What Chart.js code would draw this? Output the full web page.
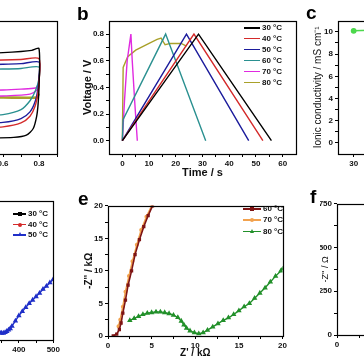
<!DOCTYPE html>
<html>
<head>
<meta charset="utf-8">
<script src="https://cdn.jsdelivr.net/npm/chart.js@4.4.0/dist/chart.umd.min.js"></script>
<style>
  body { margin: 0; width: 364px; height: 364px; overflow: hidden; background: #fff; position: relative;
         font-family: "Liberation Sans", Arial, sans-serif; }
  canvas { position: absolute; }
  .letter { position: absolute; font-size: 19px; font-weight: bold; line-height: 19px; color: #000; }
  .leg { position: absolute; font-size: 8px; font-weight: bold; line-height: 10px; white-space: nowrap; color: #111; }
  .leg .ln { position: absolute; top: 4px; height: 1.5px; }
  .leg .mk { position: absolute; }
</style>
</head>
<body>
<canvas id="cvA"></canvas>
<canvas id="gcdB"></canvas>
<canvas id="condC"></canvas>
<canvas id="nyqD"></canvas>
<canvas id="nyqE"></canvas>
<canvas id="nyqF"></canvas>

<div class="letter" style="left:77px;top:4px">b</div>
<div class="letter" style="left:306px;top:3px">c</div>
<div class="letter" style="left:78px;top:189px">e</div>
<div class="letter" style="left:310px;top:187px">f</div>

<script>
// ---- (a) CV loops, [voltage, current] (current in arbitrary units, axis is cut off)
const cvTicks = [0.0, 0.2, 0.4, 0.6, 0.8];
const cv30 = [[0.5,0.31],[0.6,0.315],[0.7,0.325],[0.76,0.335],[0.8,0.35],[0.8,0.0],[0.795,-0.15],[0.787,-0.26],[0.768,-0.37],[0.73,-0.43],[0.66,-0.45],[0.5,-0.455]];
const cv40 = [[0.5,0.245],[0.6,0.248],[0.7,0.252],[0.8,0.26],[0.8,0.05],[0.794,-0.05],[0.778,-0.17],[0.75,-0.26],[0.7,-0.32],[0.6,-0.355],[0.5,-0.36]];
const cv50 = [[0.5,0.205],[0.6,0.21],[0.7,0.215],[0.8,0.23],[0.8,0.1],[0.795,0.0],[0.78,-0.12],[0.75,-0.22],[0.7,-0.28],[0.6,-0.315],[0.5,-0.32]];
const cv60 = [[0.5,0.165],[0.6,0.167],[0.7,0.172],[0.8,0.185],[0.8,0.08],[0.78,-0.03],[0.75,-0.12],[0.7,-0.2],[0.6,-0.245],[0.5,-0.25]];
const cv70 = [[0.5,-0.025],[0.6,-0.023],[0.7,-0.015],[0.78,-0.005],[0.8,0.02],[0.79,-0.02],[0.75,-0.06],[0.6,-0.077],[0.5,-0.078]];
const cv80 = [[0.5,-0.085],[0.6,-0.085],[0.79,-0.085],[0.8,-0.06],[0.79,-0.095],[0.6,-0.095],[0.5,-0.095]];

// ---- (b) galvanostatic charge/discharge, [time s, voltage V]
const timeTicks = [0, 10, 20, 30, 40, 50, 60];
const voltTicks = [0.0, 0.2, 0.4, 0.6, 0.8];
const tempLabels = ['30 °C', '40 °C', '50 °C', '60 °C', '70 °C', '80 °C'];
const gcd30 = [[0,0],[28.5,0.8],[55.8,0]];
const gcd40 = [[0,0],[26.8,0.8],[52.6,0]];
const gcd50 = [[0,0],[24.0,0.8],[47.3,0]];
const gcd60 = [[0,0],[0.3,0.16],[16.2,0.8],[31.2,0]];
const gcd70 = [[0,0],[0.8,0.3],[1.8,0.6],[3.2,0.8],[3.7,0.6],[4.6,0.3],[5.6,0]];
const gcd80 = [[0,0],[0.3,0.55],[2,0.63],[5,0.68],[10,0.73],[13,0.76],[14.5,0.77],[16,0.72],[18,0.73],[22,0.73],[24,0.71]];

// ---- (c) ionic conductivity vs temperature
const condTempTicks = [30, 40, 50, 60, 70, 80];
const condTicks = [0, 2, 4, 6, 8, 10];
const condTemp = [30, 40];
const condValue = [10.1, 10.2];

// ---- (d) Nyquist, Ω
const dZTicks = [0, 100, 200, 300, 400, 500];
const dZ50 = [[335,26],[340,24],[345,21],[350,20],[355,20],[360,22],[365,25],[370,29],[375,33],[380,40],[390,55],[400,70],[410,82],[420,94],[430,105],[440,115],[450,125],[460,135],[470,146],[480,155],[490,165],[500,175]];
const dLabels = ['30 °C', '40 °C', '50 °C'];

// ---- (e) Nyquist, kΩ
const eTicks = [0, 5, 10, 15, 20];
const eLabels = ['60 °C', '70 °C', '80 °C'];
const eZ60 = [[0.6,0],[1.0,0.3],[1.3,1.0],[1.5,2.0],[1.7,3.5],[2.0,5.5],[2.3,7.8],[2.7,10],[3.1,12.5],[3.6,14.8],[4.1,16.8],[4.6,18.5],[5.1,20]];
const eZ70 = [[1.2,1.5],[1.4,2.5],[1.7,4.5],[2.0,6.8],[2.4,9.2],[2.8,11.5],[3.3,14],[3.8,16.3],[4.4,18.3],[5.0,20]];
const eZ80 = [[2.5,2.4],[3.0,2.7],[3.5,3.0],[4.0,3.3],[4.5,3.5],[5.0,3.6],[5.5,3.7],[6.0,3.7],[6.5,3.6],[7.0,3.45],[7.5,3.2],[8.0,2.85],[8.4,2.3],[8.7,1.7],[9.0,1.2],[9.4,0.8],[9.9,0.5],[10.4,0.35],[10.9,0.5],[11.4,0.9],[12.0,1.4],[12.6,1.9],[13.2,2.4],[13.8,2.8],[14.4,3.3],[15.0,3.9],[15.6,4.5],[16.2,5.0],[16.8,5.8],[17.4,6.6],[18.0,7.4],[18.6,8.3],[19.2,9.2],[19.8,10.0],[20.0,10.3]];

// ---- (f) Nyquist, Ω (only the axis is in view)
const fTicks = [0, 250, 500, 750];

Chart.defaults.font.family = '"Liberation Sans", Arial, sans-serif';
Chart.defaults.animation = false;

const frame = {
  id: 'frame',
  afterDraw(chart) {
    const a = chart.chartArea, c = chart.ctx;
    c.save();
    c.strokeStyle = '#000';
    c.lineWidth = 1.2;
    c.strokeRect(Math.round(a.left) + 0.5, Math.round(a.top) + 0.5, Math.round(a.right - a.left), Math.round(a.bottom - a.top));
    c.restore();
  }
};

const pts = arr => arr.map(p => ({x: p[0], y: p[1]}));
const mids = t => t.slice(1).map((v, i) => (v + t[i]) / 2);

function axis(o) {
  const all = o.major.concat(o.minor || mids(o.major)).sort((a, b) => a - b);
  return {
    type: 'linear', min: o.min, max: o.max,
    afterBuildTicks: s => { s.ticks = all.map(v => ({value: v})); },
    ticks: {
      autoSkip: false, maxRotation: 0, padding: 2, color: '#111',
      font: {size: 8, weight: 'bold'},
      callback: v => o.major.includes(v) ? (o.fmt ? o.fmt(v) : String(v)) : ''
    },
    grid: {drawOnChartArea: false, tickLength: 3, color: '#000'},
    border: {display: false},
    title: o.title ? {display: true, text: o.title, padding: 0, color: '#111',
                      font: {size: o.tsize || 10, weight: o.tweight || 'bold'}} : {display: false}
  };
}

function panel(id, area, yw, xh, datasets, xAxis, yAxis) {
  const pad = 6;
  const cv = document.getElementById(id);
  const w = area.r - area.l + yw + pad, h = area.b - area.t + xh + pad;
  cv.width = w; cv.height = h;
  cv.style.width = w + 'px'; cv.style.height = h + 'px';
  cv.style.left = (area.l - yw) + 'px';
  cv.style.top = (area.t - pad) + 'px';
  xAxis.afterFit = s => { s.height = xh; };
  yAxis.afterFit = s => { s.width = yw; };
  return new Chart(cv, {
    type: 'scatter',
    data: {datasets},
    options: {
      responsive: false,
      layout: {padding: {top: pad, right: pad, left: 0, bottom: 0}, autoPadding: false},
      plugins: {legend: {display: false}, tooltip: {enabled: false}},
      scales: {x: xAxis, y: yAxis}
    },
    plugins: [frame]
  });
}

function line(data, color, extra) {
  return Object.assign({data: pts(data), showLine: true, borderColor: color, backgroundColor: color,
                        borderWidth: 1.4, pointRadius: 0, tension: 0}, extra || {});
}

// (a)
const cvColors = ['#000000', '#d42a2a', '#1c1c9c', '#2a9090', '#e02ae0', '#a9a12a'];
panel('cvA', {l: -105, r: 57, t: 21, b: 154}, 10, 20,
  [cv30, cv40, cv50, cv60, cv70, cv80].map((d, i) => line(d, cvColors[i], {tension: 0.25})),
  axis({min: 0, max: 0.9, major: cvTicks, minor: [0.1, 0.3, 0.5, 0.7, 0.9], fmt: v => v.toFixed(1)}),
  axis({min: -0.6, max: 0.6, major: [], minor: []}));

// (b)
panel('gcdB', {l: 109, r: 296, t: 20, b: 154}, 28, 26,
  [gcd30, gcd40, gcd50, gcd60, gcd70, gcd80].map((d, i) => line(d, cvColors[i])),
  axis({min: -5, max: 65, major: timeTicks, title: 'Time / s', tsize: 11}),
  axis({min: -0.1, max: 0.9, major: voltTicks, minor: [0.1, 0.3, 0.5, 0.7], fmt: v => v.toFixed(1), title: 'Voltage / V', tsize: 11}));

// (c)
panel('condC', {l: 338, r: 526, t: 20, b: 154}, 26, 20,
  [line(condTemp.map((t, i) => [t, condValue[i]]), '#4cd84c', {pointRadius: 2.2, pointStyle: 'circle'})],
  axis({min: 25, max: 85, major: condTempTicks}),
  axis({min: -1, max: 11, major: condTicks, minor: [1, 3, 5, 7, 9], title: 'Ionic conductivity / mS cm⁻¹', tweight: 'normal'}));

// (d)
panel('nyqD', {l: -119, r: 56, t: 201, b: 340}, 10, 20,
  [line(dZ50, '#1f2fc8', {pointRadius: 1.8, pointStyle: 'triangle'})],
  axis({min: 0, max: 500, major: dZTicks}),
  axis({min: 0, max: 400, major: [], minor: []}));

// (e)
panel('nyqE', {l: 108, r: 283, t: 205, b: 336}, 25, 23,
  [line(eZ60, '#7e1414', {pointRadius: 1.2, pointStyle: 'rect', borderWidth: 1.6}),
   line(eZ70, '#f2a24e', {pointRadius: 1.2, pointStyle: 'circle', borderWidth: 1.6}),
   line(eZ80, '#22902a', {pointRadius: 1.8, pointStyle: 'triangle', borderWidth: 1.4})],
  axis({min: 0, max: 20, major: eTicks, title: "Z' / kΩ"}),
  axis({min: 0, max: 20, major: eTicks, title: "-Z'' / kΩ"}));

// (f)
panel('nyqF', {l: 337, r: 520, t: 203, b: 335}, 17, 20, [],
  axis({min: 0, max: 1000, major: [0, 250, 500, 750, 1000]}),
  axis({min: 0, max: 750, major: fTicks, title: "-Z'' / Ω", tsize: 9, tweight: 'normal'}));

// legends (drawn as text next to short line samples)
function legend(x, y, dy, lineW, labels, colors, marks) {
  labels.forEach((txt, i) => {
    const row = document.createElement('div');
    row.className = 'leg';
    row.style.left = x + 'px';
    row.style.top = (y + i * dy - 5) + 'px';
    row.style.paddingLeft = (lineW + 2) + 'px';
    row.textContent = txt;
    const ln = document.createElement('span');
    ln.className = 'ln';
    ln.style.left = '0px';
    ln.style.width = lineW + 'px';
    ln.style.background = colors[i];
    row.appendChild(ln);
    if (marks) {
      const mk = document.createElement('span');
      mk.className = 'mk';
      const m = marks[i];
      mk.style.left = (lineW / 2 - 2) + 'px';
      if (m === 'tri') {
        mk.style.top = '2px';
        mk.style.borderLeft = '2.5px solid transparent';
        mk.style.borderRight = '2.5px solid transparent';
        mk.style.borderBottom = '4px solid ' + colors[i];
      } else {
        mk.style.top = '3px';
        mk.style.width = '4px';
        mk.style.height = '4px';
        mk.style.background = colors[i];
        if (m === 'dot') mk.style.borderRadius = '50%';
      }
      row.appendChild(mk);
    }
    document.body.appendChild(row);
  });
}
legend(244, 28, 10.9, 16, tempLabels, cvColors);
legend(13, 214, 10.5, 13, dLabels, ['#000000', '#d42a2a', '#1f2fc8'], ['sq', 'dot', 'tri']);
legend(243, 209, 11.3, 18, eLabels, ['#7e1414', '#f2a24e', '#22902a'], ['sq', 'dot', 'tri']);
</script>
</body>
</html>
